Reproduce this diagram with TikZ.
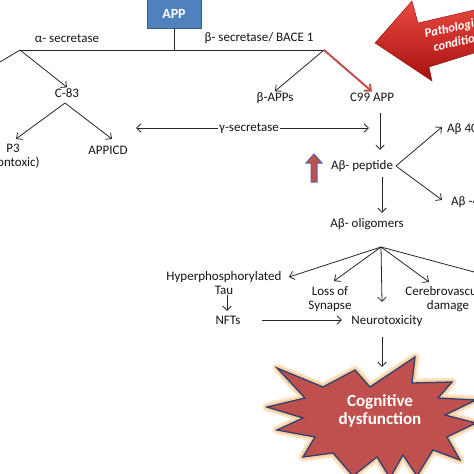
\documentclass[tikz,border=0pt]{standalone}
\usepackage{fontspec}
\setmainfont{Carlito}
\usetikzlibrary{arrows.meta,calc}
\definecolor{txt}{RGB}{20,20,20}
\definecolor{appblue}{RGB}{79,129,189}
\definecolor{appborder}{RGB}{56,93,138}
\definecolor{redfill}{RGB}{192,80,77}
\definecolor{starborder}{RGB}{45,65,115}
\definecolor{glow}{RGB}{250,200,140}
\definecolor{pathlight}{RGB}{235,75,65}
\definecolor{pathdark}{RGB}{165,15,15}
\definecolor{upborder}{RGB}{85,105,165}
\begin{document}
\begin{tikzpicture}[x=1pt,y=-1pt,
  lbl/.style={font=\fontsize{13}{14}\selectfont, text=txt, inner sep=1pt, align=center},
  conn/.style={draw=black!85, line width=0.8pt},
  arr/.style={conn, -{Straight Barb[length=4.5pt,width=8.5pt,line width=0.8pt]}},
  redarr/.style={draw=redfill, line width=2pt, -{Straight Barb[length=5pt,width=9pt,line width=2pt]}},
  appbox/.style={fill=appblue, draw=appborder, line width=0.8pt, minimum width=54pt, minimum height=29pt, inner sep=0pt, text=white, font=\fontsize{14}{16}\selectfont\bfseries},
  whitebold/.style={text=white, align=center, inner sep=0pt},
]
\useasboundingbox (0,0) rectangle (474,474);
\clip (0,0) rectangle (474,474);

% ---------- nodes ----------
\node[appbox] (app) at (174,13.5) {APP};
\node[lbl] (alpha) at (67,38) {α- secretase};
\node[lbl] (beta) at (259,38) {β- secretase/ BACE 1};
\node[lbl] (c83) at (67,93) {C-83};
\node[lbl] (bapps) at (275,98) {β-APPs};
\node[lbl] (c99) at (372,97) {C99 APP};
\node[lbl] (p3) at (13,156) {P3\\(nontoxic)};
\node[lbl] (appicd) at (108,150) {APPICD};
\node[lbl] (gamma) at (249,128) {γ-secretase};
\node[lbl] (abpep) at (362,166) {Aβ- peptide};
\node[lbl, anchor=west] (ab40) at (446,129) {Aβ 40};
\node[lbl, anchor=west] (ab42) at (450,202) {Aβ -42};
\node[lbl] (olig) at (367,224) {Aβ- oligomers};
\node[lbl] (hyper) at (224,283) {Hyperphosphorylated\\Tau};
\node[lbl] (loss) at (330,299) {Loss of\\Synapse};
\node[lbl] (cereb) at (448,299) {Cerebrovascular\\damage};
\node[lbl] (nfts) at (228,320) {NFTs};
\node[lbl] (neuro) at (387,321) {Neurotoxicity};

% ---------- coordinates ----------
\coordinate (jA) at (174,50);
\coordinate (jL) at (20,50);
\coordinate (jR) at (324,50);
\coordinate (offL) at (-25,77);
\coordinate (c83top) at (65,103);
\coordinate (p3in) at (16,139);
\coordinate (appicdin) at (112,139);
\coordinate (gL) at (136,128);
\coordinate (gR) at (369,128);
\coordinate (v1a) at (380,113);
\coordinate (v1b) at (380,150);
\coordinate (pepR) at (396,166);
\coordinate (ab40in) at (442,127);
\coordinate (ab42in) at (442,200);
\coordinate (v2a) at (382,177);
\coordinate (v2b) at (382,213);
\coordinate (fan) at (381,247);
\coordinate (hyperin) at (289,277);
\coordinate (lossin) at (334,281);
\coordinate (neuroin) at (382,302);
\coordinate (cerebin) at (429,282);
\coordinate (offR) at (530,287);
\coordinate (taub) at (227,295);
\coordinate (nftt) at (227,311);
\coordinate (nftR) at (262,320);
\coordinate (neuL) at (342,320);
\coordinate (v3a) at (382,337);
\coordinate (v3b) at (382,367);

% ---------- top tree ----------
\draw[conn] (app.south) -- (jA);
\draw[conn] (jL) -- (jR);
\draw[arr] (jL) -- (offL);
\draw[arr] (jL) -- (c83.north);
\draw[arr] (jR) -- (bapps.north);
\draw[redarr] (jR) -- (c99.north);
\draw[arr] (c83top) -- (p3in);
\draw[arr] (c83top) -- (appicdin);
\draw[arr] (gamma.west) -- (gL);
\draw[arr] (gamma.east) -- (gR);
\draw[arr] (v1a) -- (v1b);
\draw[arr] (pepR) -- (ab40in);
\draw[arr] (pepR) -- (ab42in);
\draw[arr] (v2a) -- (v2b);
\draw[arr] (fan) -- (hyperin);
\draw[arr] (fan) -- (lossin);
\draw[arr] (fan) -- (neuroin);
\draw[arr] (fan) -- (cerebin);
\draw[arr] (fan) -- (offR);
\draw[arr] (taub) -- (nftt);
\draw[arr] (nftR) -- (neuL);
\draw[arr] (v3a) -- (v3b);

% ---------- up arrow ----------
\draw[fill=redfill, draw=upborder, line width=1pt, line join=miter]
  (311,182) -- (317,182) -- (317,163) -- (322,163) -- (314,154) -- (306,163) -- (311,163) -- cycle;

% ---------- pathological conditions arrow ----------
\shade[top color=pathlight, bottom color=pathdark, draw=pathdark!80!black, line width=0.4pt]
  (375,43) -- (412,1) -- (418,23) -- (500,4) -- (500,45) -- (429,67) -- (432,81) -- cycle;
\node[whitebold, rotate=12, font=\fontsize{12.5}{15}\selectfont\bfseries\itshape] (path) at (458,34) {Pathological\\conditions};

% ---------- star ----------
\def\starpath{(277,368) -- (323,387) -- (355,370) -- (370,387) -- (415,357) -- (412,383) -- (452,382) -- (438,398) -- (476,400) -- (445,415) -- (476,423) -- (447,437) -- (460,460) -- (433,450) -- (417,476) -- (403,455) -- (390,478) -- (377,457) -- (353,476) -- (333,453) -- (303,457) -- (315,437) -- (277,430) -- (303,418) -- (267,407) -- (305,398) -- cycle}
\draw[draw=glow, opacity=0.45, line width=9pt, line join=round] \starpath;
\draw[draw=glow, opacity=0.7, line width=5pt, line join=round] \starpath;
\draw[fill=redfill, draw=starborder, line width=1.3pt, line join=miter] \starpath;
\node[whitebold, font=\fontsize{17}{17.5}\selectfont\bfseries] (cog) at (380,411) {Cognitive\\dysfunction};
\end{tikzpicture}
\end{document}
